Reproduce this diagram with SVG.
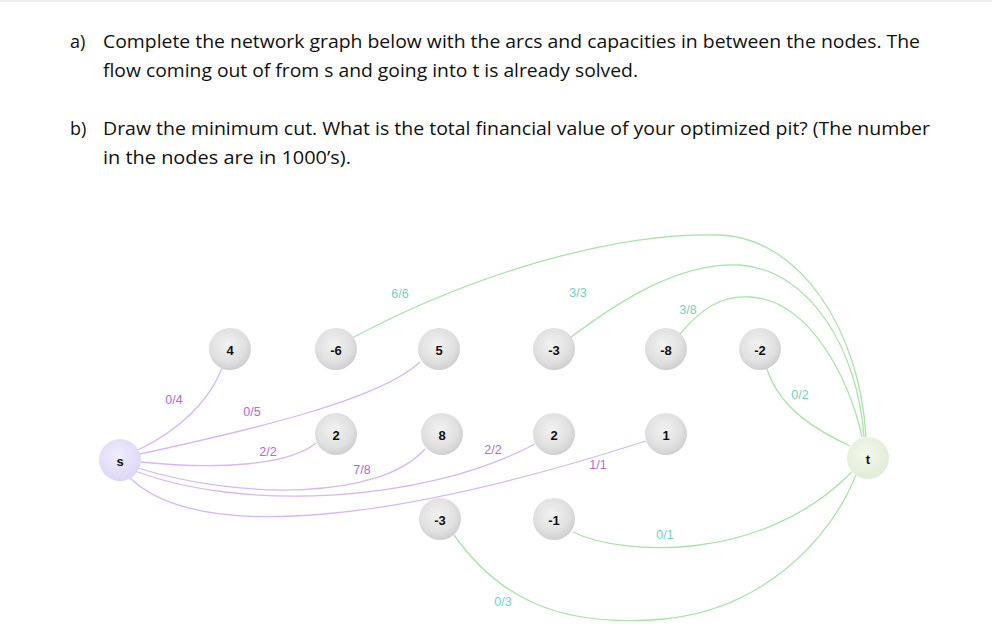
<svg xmlns="http://www.w3.org/2000/svg" width="992" height="635" viewBox="0 0 992 635">
<defs>
<radialGradient id="g" cx="45%" cy="40%" r="60%"><stop offset="0" stop-color="#f2f2f2"/><stop offset="0.7" stop-color="#e0e0e0"/><stop offset="1" stop-color="#cfcfcf"/></radialGradient>
<radialGradient id="gs" cx="45%" cy="40%" r="60%"><stop offset="0" stop-color="#f1eefc"/><stop offset="1" stop-color="#ddd6f6"/></radialGradient>
<radialGradient id="gt" cx="45%" cy="40%" r="60%"><stop offset="0" stop-color="#f3f8ee"/><stop offset="1" stop-color="#e1edd6"/></radialGradient>
</defs>
<style>
.hd{font-family:"Open Sans","Liberation Sans",sans-serif;font-size:18px;fill:#111}
.n{font-family:"Liberation Sans",Arial,sans-serif;font-size:13px;font-weight:bold;fill:#111;text-anchor:middle;dominant-baseline:central}
.p{fill:none;stroke:#d7b8f0;stroke-width:1.3}
.q{fill:none;stroke:#a9e3a9;stroke-width:1.3}
.lp{font-family:"Liberation Sans",Arial,sans-serif;font-size:12.5px;fill:#b06ae0;text-anchor:middle}
.lq{font-family:"Liberation Sans",Arial,sans-serif;font-size:12.5px;fill:#6fd3c0;text-anchor:middle}
</style>
<rect width="992" height="635" fill="#fff"/>
<line x1="0" y1="1" x2="992" y2="1" stroke="#ddd"/>
<text class="hd" x="70" y="48">a)</text>
<text class="hd" x="103" y="48" textLength="817" lengthAdjust="spacingAndGlyphs">Complete the network graph below with the arcs and capacities in between the nodes. The</text>
<text class="hd" x="103" y="77" textLength="535" lengthAdjust="spacingAndGlyphs">flow coming out of from s and going into t is already solved.</text>
<text class="hd" x="70" y="135">b)</text>
<text class="hd" x="103" y="135" textLength="827" lengthAdjust="spacingAndGlyphs">Draw the minimum cut. What is the total financial value of your optimized pit? (The number</text>
<text class="hd" x="103" y="164" textLength="248" lengthAdjust="spacingAndGlyphs">in the nodes are in 1000’s).</text>
<g id="connectors">
<path class="p" d="M138,450 C180,430 210,400 222,368"/>
<path class="p" d="M140,454 C250,430 380,400 420,362"/>
<path class="p" d="M140,462 C220,470 290,465 316,443"/>
<path class="p" d="M138,468 C240,500 380,500 425,449"/>
<path class="p" d="M138,472 C240,510 420,505 535,444"/>
<path class="p" d="M130,478 C200,545 400,520 646,441"/>
<path class="q" d="M352,338 C480,270 620,232 720,235 C800,238 860,330 866,437"/>
<path class="q" d="M570,338 C620,300 680,262 740,265 C810,270 858,350 864,437"/>
<path class="q" d="M680,334 C700,310 720,295 750,297 C810,300 850,380 862,437"/>
<path class="q" d="M767,369 C780,410 820,432 850,446"/>
<path class="q" d="M573,532 C620,555 760,565 852,472"/>
<path class="q" d="M454,535 C500,600 560,625 650,620 C760,615 830,540 856,475"/>
<text class="lp" x="174" y="404">0/4</text>
<text class="lp" x="252" y="416">0/5</text>
<text class="lp" x="268" y="456">2/2</text>
<text class="lp" x="362" y="474">7/8</text>
<text class="lp" x="493" y="454">2/2</text>
<text class="lp" x="598" y="469">1/1</text>
<text class="lq" x="400" y="298">6/6</text>
<text class="lq" x="578" y="297">3/3</text>
<text class="lq" x="688" y="314">3/8</text>
<text class="lq" x="800" y="399">0/2</text>
<text class="lq" x="665" y="539">0/1</text>
<text class="lq" x="503" y="606">0/3</text>
</g>
<g id="s"><circle cx="120" cy="460" r="21" fill="url(#gs)"/><text class="n" x="120" y="461">s</text></g>
<g id="t"><circle cx="868" cy="458" r="21" fill="url(#gt)"/><text class="n" x="868" y="459">t</text></g>
<g id="n4"><circle cx="230" cy="349" r="21" fill="url(#g)"/><text class="n" x="230" y="350">4</text></g>
<g id="nm6"><circle cx="336" cy="349" r="21" fill="url(#g)"/><text class="n" x="336" y="350">-6</text></g>
<g id="n5"><circle cx="439" cy="349" r="21" fill="url(#g)"/><text class="n" x="439" y="350">5</text></g>
<g id="nm3a"><circle cx="554" cy="349" r="21" fill="url(#g)"/><text class="n" x="554" y="350">-3</text></g>
<g id="nm8"><circle cx="666" cy="349" r="21" fill="url(#g)"/><text class="n" x="666" y="350">-8</text></g>
<g id="nm2"><circle cx="760" cy="349" r="21" fill="url(#g)"/><text class="n" x="760" y="350">-2</text></g>
<g id="n2a"><circle cx="336" cy="434" r="21" fill="url(#g)"/><text class="n" x="336" y="435">2</text></g>
<g id="n8"><circle cx="442" cy="434" r="21" fill="url(#g)"/><text class="n" x="442" y="435">8</text></g>
<g id="n2b"><circle cx="554" cy="434" r="21" fill="url(#g)"/><text class="n" x="554" y="435">2</text></g>
<g id="n1"><circle cx="666" cy="434" r="21" fill="url(#g)"/><text class="n" x="666" y="435">1</text></g>
<g id="nm3b"><circle cx="440" cy="519" r="21" fill="url(#g)"/><text class="n" x="440" y="520">-3</text></g>
<g id="nm1"><circle cx="554" cy="519" r="21" fill="url(#g)"/><text class="n" x="554" y="520">-1</text></g>
</svg>
